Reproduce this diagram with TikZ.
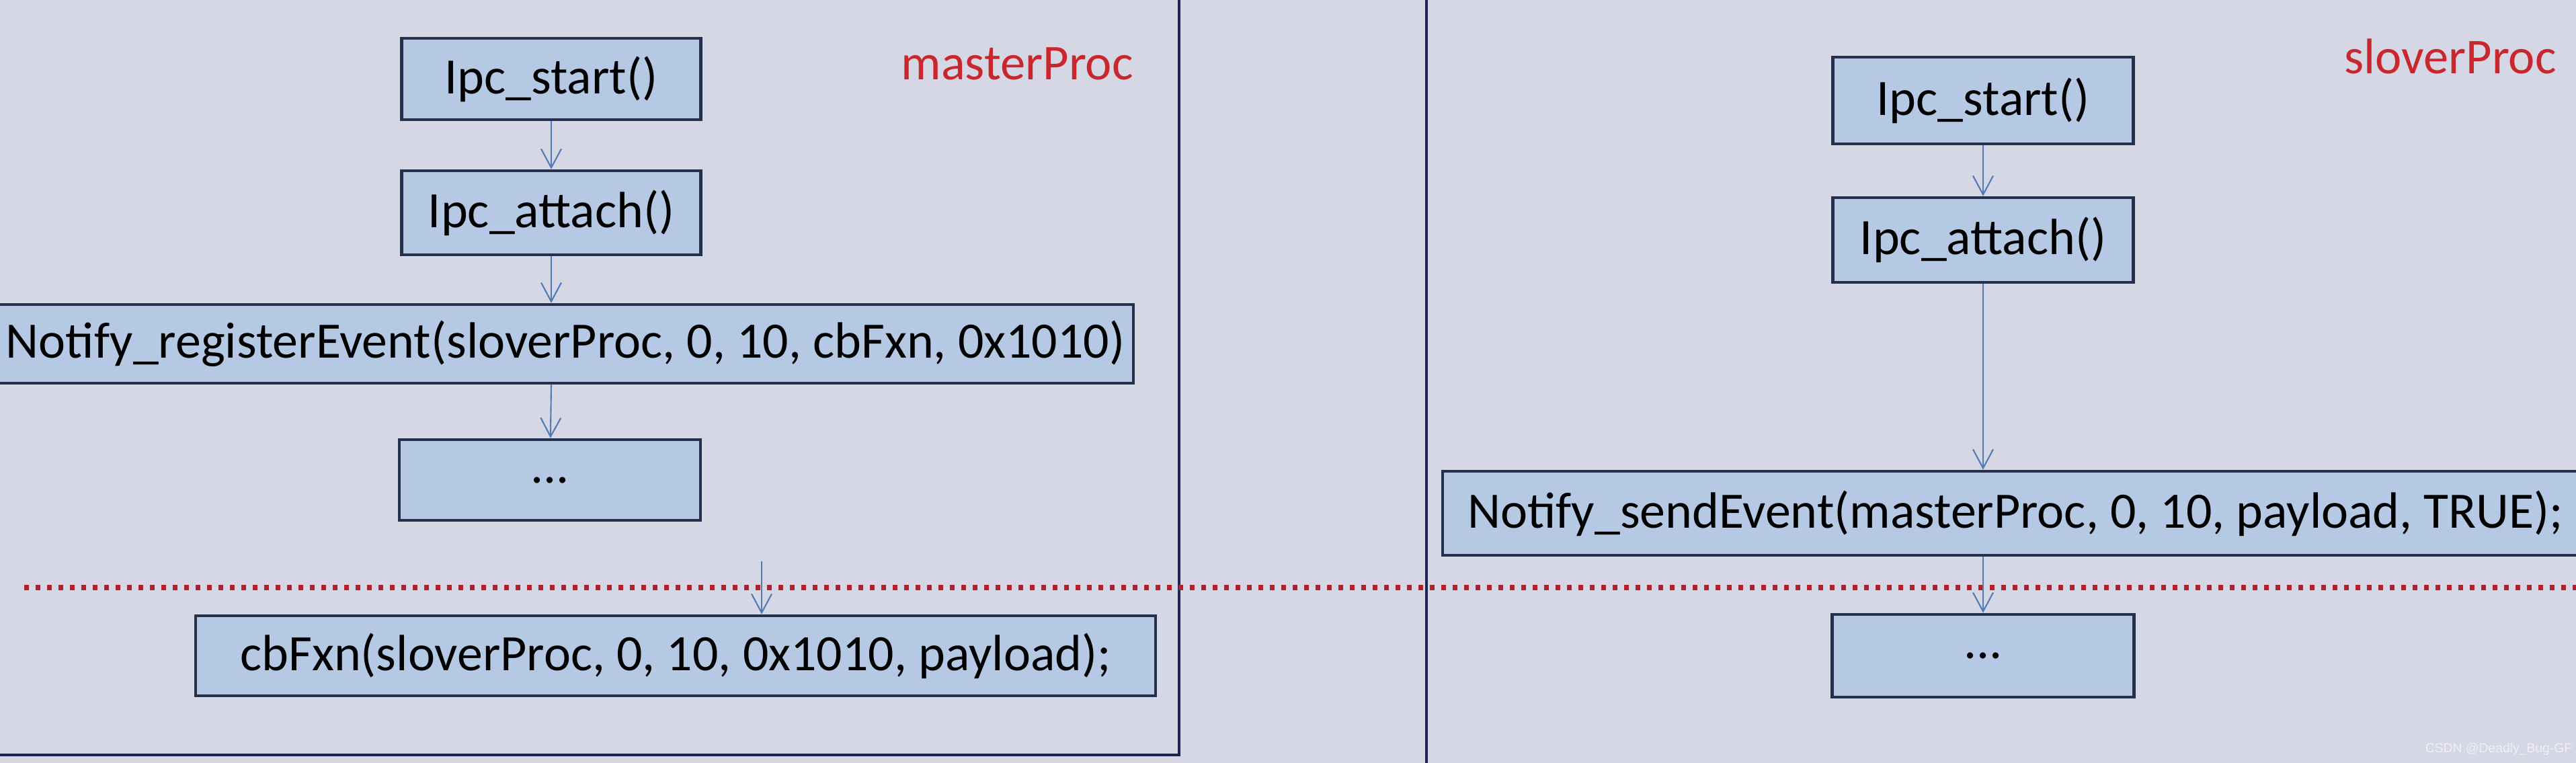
\documentclass[tikz,border=0pt]{standalone}
\usepackage{fontspec}
\setmainfont{Carlito}
\setsansfont{Liberation Sans}
\usetikzlibrary{positioning,arrows.meta}
\definecolor{screenbg}{RGB}{214,215,228}
\definecolor{boxfill}{RGB}{182,201,228}
\definecolor{boxline}{RGB}{36,48,76}
\definecolor{flowblue}{RGB}{84,122,182}
\definecolor{procred}{RGB}{200,40,45}
\definecolor{panelline}{RGB}{28,38,84}
\definecolor{sepred}{RGB}{178,32,42}

\begin{document}
\begin{tikzpicture}[
    procbox/.style={rectangle, draw=boxline, line width=1.3pt, fill=boxfill, inner sep=0pt, font=\fontsize{21.6}{26}\selectfont},
    flow/.style={-{Straight Barb[length=0.28cm,width=0.3cm]}, draw=flowblue, line width=0.6pt},
    proclabel/.style={text=procred, font=\fontsize{21.2}{25}\selectfont},
    panel/.style={draw=panelline, line width=0.9pt},
    sepline/.style={draw=sepred, line width=2pt, dash pattern=on 0.07cm off 0.1cm}
]
    \clip (0,0) rectangle (38.32,-11.35);
    \fill[screenbg] (0,0) rectangle (38.32,-11.35);

    % Panels
    \draw[panel] (-0.2,0.2) rectangle (17.54,-11.23);
    \draw[panel] (21.22,0.2) rectangle (38.6,-11.6);

    % Left: masterProc
    \node[proclabel] (master) at (15.13,-0.95) {masterProc};
    \node[procbox, minimum width=4.45cm, minimum height=1.21cm] (mstart) at (8.2,-1.175) {Ipc\_start()};
    \node[procbox, minimum width=4.45cm, minimum height=1.25cm] (mattach) at (8.2,-3.165) {Ipc\_attach()};
    \node[procbox, minimum width=16.9cm, minimum height=1.17cm] (mreg) at (8.41,-5.115) {Notify\_registerEvent(sloverProc, 0, 10, cbFxn, 0x1010)};
    \node[procbox, minimum width=4.48cm, minimum height=1.2cm] (mdots) at (8.18,-7.14) {...};
    \node[procbox, minimum width=14.28cm, minimum height=1.19cm] (mcb) at (10.05,-9.755) {cbFxn(sloverProc, 0, 10, 0x1010, payload);};

    % Right: sloverProc
    \node[proclabel] (slover) at (36.45,-0.84) {sloverProc};
    \node[procbox, minimum width=4.47cm, minimum height=1.29cm] (sstart) at (29.5,-1.495) {Ipc\_start()};
    \node[procbox, minimum width=4.47cm, minimum height=1.26cm] (sattach) at (29.5,-3.57) {Ipc\_attach()};
    \node[procbox, minimum width=17.04cm, minimum height=1.25cm] (ssend) at (29.98,-7.635) {Notify\_sendEvent(masterProc, 0, 10, payload, TRUE);};
    \node[procbox, minimum width=4.49cm, minimum height=1.23cm] (sdots) at (29.5,-9.755) {...};

    % Separator
    \draw[sepline] (0.36,-8.74) -- (38.6,-8.74);

    % Arrows
    \draw[flow] (mstart) -- (mattach);
    \draw[flow] (mattach) -- (mattach |- mreg.north);
    \draw[flow] (mattach |- mreg.south) -- (mdots);
    \coordinate (cbin) at (11.33,-8.35);
    \draw[flow] (cbin) -- (cbin |- mcb.north);
    \draw[flow] (sstart) -- (sattach);
    \draw[flow] (sattach) -- (sattach |- ssend.north);
    \draw[flow] (sattach |- ssend.south) -- (sdots);

    % Watermark
    \node[font=\fontsize{5.5}{6}\sffamily, text=white!88!gray] (mark) at (37.17,-11.15) {CSDN @Deadly\_Bug-GF};
\end{tikzpicture}
\end{document}
